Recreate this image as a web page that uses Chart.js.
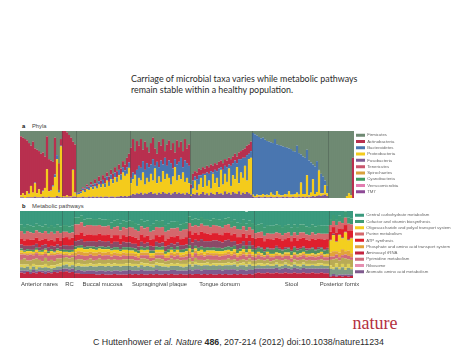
<!DOCTYPE html>
<html><head><meta charset="utf-8">
<script src="https://cdn.jsdelivr.net/npm/chart.js@4"></script>
<style>
html,body{margin:0;padding:0;background:#fff;width:474px;height:355px;overflow:hidden}
canvas{position:absolute;left:0;filter:blur(.4px)}
.t{position:absolute;white-space:nowrap;color:#222}
</style></head><body>
<div class="t" style="left:131px;top:73px;font:8.9px/11px Lato,sans-serif;color:#2a2a2a">Carriage of microbial taxa varies while metabolic pathways<br>remain stable within a healthy population.</div>
<div class="t" style="left:22px;top:122.5px;font:bold 5.8px/7px 'Liberation Sans';color:#111">a</div>
<div class="t" style="left:32px;top:122.5px;font:5.8px/7px 'Liberation Sans';color:#444">Phyla</div>
<div class="t" style="left:22px;top:203px;font:bold 5.8px/7px 'Liberation Sans';color:#111">b</div>
<div class="t" style="left:32px;top:203px;font:5.9px/7px 'Liberation Sans';color:#444">Metabolic pathways</div>
<div class="t" style="left:352.5px;top:314px;font:18px/18px 'Liberation Serif';color:#b4313f">nature</div>
<div class="t" style="left:93px;top:336px;font:8.8px/12px 'Liberation Sans';color:#2c2c2c">C Huttenhower <i>et al.</i> <i>Nature</i> <b>486</b>, 207-214 (2012) doi:10.1038/nature11234</div>
<canvas id="phyla" width="474" height="80" style="top:124px"></canvas>
<canvas id="pathways" width="474" height="92" style="top:204px"></canvas>
<script>
const sectionNames = ["Anterior nares","RC","Buccal mucosa","Supragingival plaque","Tongue dorsum","Stool","Posterior fornix"];

// ---- Panel a: phyla, % per sample. 167 columns; rows: nares 21, RC 7, buccal 27, plaque 30, tongue 31, stool 38, fornix 13
const phylaSectionStarts = [21,28,55,85,116,154];
const phylaColumnCount = 167;
const fusobacteria = [
1,1,0,1,1,1,1,2,1,1,1,2,1,1,2,1,1,1,3,2,1,
1,1,1,1,1,2,2,
1,1,1,2,1,1,2,1,2,1,2,1,2,1,2,2,1,2,2,1,2,2,3,2,3,2,3,
4,6,5,7,6,8,5,7,6,8,9,6,7,5,8,6,9,7,6,8,5,7,9,6,8,6,7,5,8,6,
3,6,5,8,4,6,9,5,7,4,8,6,5,9,6,7,5,10,6,8,5,9,7,6,10,5,8,6,9,7,5,
2,1,1,2,1,1,2,1,1,2,1,1,2,1,1,2,1,2,1,1,2,1,1,2,1,2,1,2,1,2,3,2,3,4,3,4,5,3,
0,0,0,0,0,0,0,0,0,0,0,0,0];
const proteobacteria = [
3,6,4,9,5,17,7,20,6,12,5,8,14,42,8,10,16,30,55,6,76,
2,1,3,1,2,40,6,
4,5,6,9,8,12,10,15,11,16,12,19,14,20,14,24,17,26,20,30,22,32,24,36,30,34,42,
18,22,29,11,24,18,33,13,24,16,27,20,37,17,24,18,31,21,30,22,15,25,37,20,26,22,31,19,22,16,
2,8,21,4,16,24,7,29,11,22,6,30,17,21,10,35,15,26,18,36,13,25,21,40,12,33,22,42,17,51,55,
3,2,4,2,3,5,2,4,3,6,4,3,8,4,3,2,5,3,9,4,3,5,7,3,22,4,5,32,3,6,25,4,6,37,4,3,14,4,
0,0,0,0,0,0,0,0,0,3,7,4,0];
const bacteroidetes = [
0,0,0,0,1,0,0,1,0,0,0,1,0,0,0,1,2,4,6,4,1,
0,0,0,0,0,1,1,
2,2,3,3,3,4,3,4,4,5,4,5,5,6,6,6,6,7,6,7,7,8,8,8,8,10,8,
8,10,1,24,18,19,17,22,22,22,14,32,4,32,14,32,10,32,12,26,32,12,12,24,20,32,8,32,22,26,
10,12,6,16,14,4,20,2,20,10,26,2,20,10,28,4,22,12,22,6,30,18,28,6,36,20,30,12,38,8,10,
92,92,88,87,85,84,83,80,80,75,77,84,70,74,74,73,70,70,64,68,65,63,70,62,42,56,54,38,52,45,22,41,46,1,29,25,7,11,
0,0,0,0,0,0,0,0,0,0,0,0,0];
const actinobacteria = [
88,83,84,76,75,60,76,51,65,57,60,57,47,49,48,44,35,55,0,40,10,
97,98,94,92,87,41,71,
1,1,2,2,2,3,2,4,3,6,4,7,5,7,8,6,8,7,8,8,9,8,9,9,9,14,13,
45,50,35,43,30,43,17,42,24,22,32,32,26,12,38,22,38,10,32,30,20,38,10,36,22,24,24,32,22,32,
5,10,8,10,10,8,10,8,10,10,10,10,10,10,10,10,10,10,10,10,10,10,10,10,10,12,12,14,14,14,14,
0,0,0,0,0,0,0,0,0,0,0,0,0,0,0,0,0,0,0,0,0,0,0,0,0,0,0,0,0,0,0,0,0,0,0,0,0,0,
0,0,0,0,0,0,0,0,0,0,0,0,60];
const firmicutes = [
8,10,12,14,18,22,16,26,28,30,34,32,38,8,42,44,46,10,36,48,12,
0,0,2,6,10,16,20,
92,91,88,84,86,80,83,76,80,72,78,68,74,66,70,62,68,58,64,54,60,50,56,45,50,40,34,
25,12,30,15,22,12,28,16,24,32,18,10,26,34,16,22,12,30,20,14,28,18,32,14,24,16,30,12,26,20,
80,64,60,62,56,58,54,56,52,54,50,52,48,50,46,44,48,42,44,40,42,38,34,38,32,30,28,26,22,20,16,
3,5,7,9,11,10,13,15,16,17,18,12,20,21,22,23,24,25,26,27,30,31,22,33,35,38,40,28,44,47,50,53,45,58,64,68,74,82,
100,100,100,100,100,100,100,100,100,97,93,96,40];
// Too thin to read in the picture; listed in the legend only
const tenericutes = [], spirochaetes = [], cyanobacteria = [], verrucomicrobia = [], tm7 = [];

const phylaNames = ["Firmicutes","Actinobacteria","Bacteroidetes","Proteobacteria","Fusobacteria","Tenericutes","Spirochaetes","Cyanobacteria","Verrucomicrobia","TM7"];
const phylaColors = ["#6f8a73","#b8304f","#4a76b0","#f4cb1c","#7f5c94","#c9566d","#d9a13c","#3f9a5f","#e27db0","#8e4a96"];
const phylaValues = [firmicutes,actinobacteria,bacteroidetes,proteobacteria,fusobacteria,tenericutes,spirochaetes,cyanobacteria,verrucomicrobia,tm7];

// ---- Panel b: metabolic pathways, % per sample. 111 columns; rows: nares 14, RC 4, buccal 18, plaque 20, tongue 22, stool 25, fornix 8
const pathwaySectionStarts = [14,18,36,56,78,103];
const pathwayLabelColumns = [6,16,27,46,66,90,106];
const pathwayColumnCount = 111;
const aminoacylTRNA = [
8,7,9,6,8,7,9,8,6,8,7,9,8,10,
9,10,8,9,
7,7,6,6,6,6,6,5,5,6,5,5,5,6,5,5,5,5,
6,5,6,5,6,5,5,6,5,6,5,5,6,5,6,5,5,6,5,5,
6,5,6,6,5,6,5,6,5,5,6,5,6,5,5,6,5,6,5,5,6,5,
7,8,7,7,8,7,7,8,7,7,8,7,7,8,7,7,8,7,7,8,7,7,8,7,7,
2,3,2,3,2,3,2,3];
const aromaticAA = [
3,4,2,3,4,3,2,3,4,3,2,3,4,3,
5,4,5,5,
4,5,5,4,5,5,5,5,6,5,5,6,5,5,6,5,6,6,
6,6,5,6,7,6,6,5,6,7,6,6,5,6,6,7,6,5,6,6,
7,6,7,7,6,7,7,6,7,7,7,6,7,7,8,7,6,7,7,6,7,7,
7,6,7,7,6,7,7,7,6,7,7,7,6,7,7,6,7,7,7,6,7,7,6,7,7,
2,3,2,2,3,2,3,2];
const otherGrey = [
5,4,6,4,5,3,5,4,6,4,5,3,5,4,
5,6,4,5,
6,6,6,7,6,7,6,7,7,7,7,7,7,7,7,7,7,7,
6,6,7,5,6,6,7,6,5,6,7,6,6,5,6,6,7,6,5,6,
7,6,7,6,7,6,7,6,7,6,6,7,6,7,6,7,6,6,7,6,7,6,
4,5,4,4,5,4,4,5,4,4,5,4,4,5,4,4,5,4,4,5,4,4,5,4,4,
10,7,12,8,11,7,10,8];
const otherPaleYellow = [
4,5,3,5,4,6,3,4,5,3,5,4,3,5,
5,4,6,5,
4,4,4,3,4,4,3,4,4,3,4,4,3,4,3,4,3,4,
4,4,3,4,4,5,4,3,4,4,4,5,3,4,4,3,4,4,5,4,
4,3,4,3,4,3,4,3,3,4,3,4,3,4,3,3,4,3,4,3,4,3,
3,3,4,3,3,2,3,3,4,3,3,3,2,3,3,4,3,3,3,2,3,4,3,3,3,
5,3,6,3,5,4,6,3];
const otherOlive = [
7,9,6,8,7,10,8,6,9,7,8,6,9,7,
6,7,6,7,
6,6,7,6,6,7,6,6,7,6,6,6,7,6,6,6,7,6,
6,7,5,6,6,7,6,5,6,6,7,6,5,6,7,6,6,5,6,6,
5,5,6,5,5,4,5,6,5,5,4,5,5,6,5,5,4,5,5,6,5,5,
5,6,5,5,6,5,5,5,6,5,5,6,5,5,5,6,5,5,6,5,5,5,6,5,5,
8,12,7,10,9,13,7,11];
const pyrimidine = [
8,6,8,9,6,8,7,9,6,8,7,9,6,6,
4,3,4,3,
6,7,6,7,6,6,7,6,6,6,7,6,5,6,6,5,6,5,
5,5,6,4,5,5,6,5,4,5,5,6,5,4,5,5,6,5,4,5,
7,6,7,6,7,6,6,7,6,7,6,6,7,6,6,7,6,6,7,6,6,6,
5,6,5,5,6,6,5,5,6,5,5,6,5,6,5,5,6,5,5,6,5,5,6,5,5,
5,4,6,5,4,6,5,4];
const phosphateAA = [
3,2,3,2,3,2,3,2,3,2,3,2,3,2,
2,3,2,3,
5,5,5,5,5,4,5,5,4,5,4,5,4,4,4,4,4,4,
4,4,4,3,4,4,4,3,4,4,4,4,3,4,4,4,4,3,4,4,
4,3,4,3,4,3,4,3,4,3,4,3,3,4,3,4,3,3,4,3,4,3,
3,3,3,2,3,3,3,3,2,3,3,3,3,2,3,3,3,3,2,3,3,3,3,2,3,
6,8,5,7,9,5,8,6];
const oligosaccharide = [
3,2,3,3,2,3,2,3,3,2,3,2,3,3,
3,2,3,2,
5,5,6,5,5,5,5,4,5,5,5,4,5,4,5,4,4,5,
4,4,3,4,4,3,4,4,3,4,4,4,3,4,4,3,4,4,3,4,
4,4,3,4,4,4,3,4,4,3,4,4,4,3,4,4,3,4,4,3,4,4,
2,2,2,1,2,2,2,2,2,1,2,2,2,2,1,2,2,2,2,2,1,2,2,2,2,
18,24,14,26,16,28,15,22];
const otherGreen = [
3,2,3,2,3,3,2,3,2,3,3,2,3,2,
4,3,4,3,
4,3,4,3,4,3,4,4,3,4,3,4,3,4,4,3,4,4,
5,4,5,4,5,4,5,4,4,5,4,5,4,5,4,4,5,4,5,4,
5,5,4,5,5,6,5,4,5,5,5,4,5,5,6,5,5,4,5,5,5,4,
6,6,7,6,5,6,6,7,6,6,5,6,6,7,6,6,6,5,6,7,6,6,5,6,6,
0,0,0,0,0,0,0,0];
const otherDarkPurple = [
6,7,5,6,7,6,5,7,6,6,5,7,6,5,
6,7,6,7,
8,8,9,8,8,8,8,8,9,8,8,8,7,8,8,7,8,7,
7,6,7,6,7,6,6,7,6,7,6,6,7,6,6,7,6,7,6,6,
10,10,9,10,11,10,9,10,10,11,10,9,10,10,8,7,8,7,7,6,7,6,
3,2,2,3,2,2,2,3,2,2,3,2,2,2,3,2,2,3,2,2,2,3,2,2,3,
1,2,1,1,2,1,2,1];
const atpSynthesis = [
9,8,10,9,8,9,10,8,9,10,9,8,10,9,
11,12,10,11,
10,9,10,9,10,10,9,10,10,9,10,10,9,10,10,9,10,9,
10,11,9,10,11,10,10,9,11,10,10,11,9,10,10,11,10,9,10,11,
11,12,11,10,11,12,11,10,11,11,10,11,12,11,10,11,11,10,11,11,10,11,
14,13,14,12,13,14,13,12,14,13,12,14,13,13,12,14,13,13,12,13,14,13,12,14,13,
12,10,13,9,12,10,13,11];
const purine = [
11,10,12,11,10,11,12,10,11,10,12,11,10,11,
9,8,9,8,
15,15,15,14,14,14,14,14,13,13,13,13,13,12,13,12,12,12,
13,13,12,13,12,13,13,12,13,12,13,12,13,12,12,13,12,12,13,12,
12,12,11,12,12,11,12,11,12,11,12,11,11,12,11,11,12,11,11,11,11,12,
8,8,9,8,8,8,9,8,8,8,9,8,8,8,8,9,8,8,8,9,8,8,8,9,8,
10,9,11,10,9,11,10,9];
const cofactor = [
10,10,10,10,10,10,10,10,10,10,10,10,10,10,
10,10,10,10,
10,10,10,10,10,10,10,10,10,10,10,10,10,10,10,10,10,10,
10,10,10,10,10,10,10,10,10,10,10,10,10,10,10,10,10,10,10,10,
10,10,10,10,10,10,10,10,10,10,10,10,10,10,10,10,10,10,10,10,10,10,
12,12,12,12,12,12,12,12,12,12,12,12,12,12,12,12,12,12,12,12,12,12,12,12,12,
9,9,9,9,9,9,9,9];
const centralCarbohydrate = [
30,30,30,30,30,30,30,30,30,30,30,30,30,30,
28,28,28,28,
18,18,18,18,18,18,18,18,18,18,20,20,20,20,20,24,24,24,
24,24,24,24,24,24,24,24,24,24,24,24,24,24,24,24,24,24,24,24,
18,18,18,18,18,18,18,18,18,18,18,18,18,18,18,18,18,18,18,18,18,18,
30,30,30,30,30,30,30,30,30,30,30,30,30,30,30,30,30,30,30,30,30,30,30,30,30,
20,20,20,20,20,20,20,20];
const ribosome = []; // too thin to read in the picture

const pathwayNames = ["Central carbohydrate metabolism","Cofactor and vitamin biosynthesis","Oligosaccharide and polyol transport system","Purine metabolism","ATP synthesis","Phosphate and amino acid transport system","Aminoacyl tRNA","Pyrimidine metabolism","Ribosome","Aromatic amino acid metabolism"];

function dataset(label,data,color){return {label,data,backgroundColor:color,borderWidth:0,barPercentage:1.12,categoryPercentage:1};}

const phylaColumns = Array.from({length:phylaColumnCount},()=>"");
const pathwayColumns = Array.from({length:pathwayColumnCount},(_,i)=>{const k=pathwayLabelColumns.indexOf(i);return k<0?"":sectionNames[k];});

function options(showTicks,order,starts){
  return {
    responsive:false,animation:false,
    layout:{padding:{left:20,top:7,right:60,bottom:3}},
    plugins:{
      title:{display:false},tooltip:{enabled:false},
      legend:{position:"right",align:"start",
        labels:{boxWidth:9,boxHeight:3,padding:2,color:"#666",font:{family:"'Liberation Sans'",size:4.3},
          filter:i=>order.includes(i.text),sort:(a,b)=>order.indexOf(a.text)-order.indexOf(b.text)}}
    },
    scales:{
      x:{stacked:true,offset:true,
        grid:{offset:true,z:1,drawTicks:false,lineWidth:1,color:c=>starts.includes(c.index)?"rgba(50,60,55,.3)":"rgba(0,0,0,0)"},
        border:{display:false},
        ticks:{display:showTicks,autoSkip:false,maxRotation:0,minRotation:0,padding:3,color:"#444",font:{family:"'Liberation Sans'",size:5.9}}},
      y:{stacked:true,min:0,max:100,display:false}
    }
  };
}

// Stacking runs bottom-up, so the arrays go lowest layer first
const phylaChart = new Chart(document.getElementById("phyla"),{type:"bar",
  data:{labels:phylaColumns,datasets:phylaValues.map((v,i)=>dataset(phylaNames[i],v,phylaColors[i])).reverse()},
  options:options(false,phylaNames,phylaSectionStarts)});
const pathwaysChart = new Chart(document.getElementById("pathways"),{type:"bar",
  data:{labels:pathwayColumns,datasets:[
    dataset("Aminoacyl tRNA",aminoacylTRNA,"#c4243f"),
    dataset("Aromatic amino acid metabolism",aromaticAA,"#7f5a8e"),
    dataset("Ribosome",ribosome,"#e58fb0"),
    dataset("Other a",otherGrey,"#7f9a86"),
    dataset("Other b",otherPaleYellow,"#dccf58"),
    dataset("Other c",otherOlive,"#b9ab55"),
    dataset("Pyrimidine metabolism",pyrimidine,"#cf6a7a"),
    dataset("Phosphate and amino acid transport system",phosphateAA,"#e2a33a"),
    dataset("Oligosaccharide and polyol transport system",oligosaccharide,"#f3cf1f"),
    dataset("Other d",otherGreen,"#4e8f62"),
    dataset("Other e",otherDarkPurple,"#8b4a68"),
    dataset("ATP synthesis",atpSynthesis,"#df1f2d"),
    dataset("Purine metabolism",purine,"#d4686c"),
    dataset("Cofactor and vitamin biosynthesis",cofactor,"#3f9b74"),
    dataset("Central carbohydrate metabolism",centralCarbohydrate,"#3a9a7e")
  ]},
  options:options(true,pathwayNames,pathwaySectionStarts)});

// Move the plot rectangle onto the reference position (page pixels)
function place(chart,canvasTop,box){
  for(let n=0;n<3;n++){
    const a=chart.chartArea,p=chart.options.layout.padding;
    p.left+=box.left-a.left; p.right+=a.right-box.right;
    p.top+=box.top-canvasTop-a.top; p.bottom+=a.bottom-(box.bottom-canvasTop);
    chart.update("none");
  }
}
place(phylaChart,124,{left:20,right:354,top:131,bottom:198});
place(pathwaysChart,204,{left:20,right:353,top:211,bottom:278});
</script>
</body></html>
